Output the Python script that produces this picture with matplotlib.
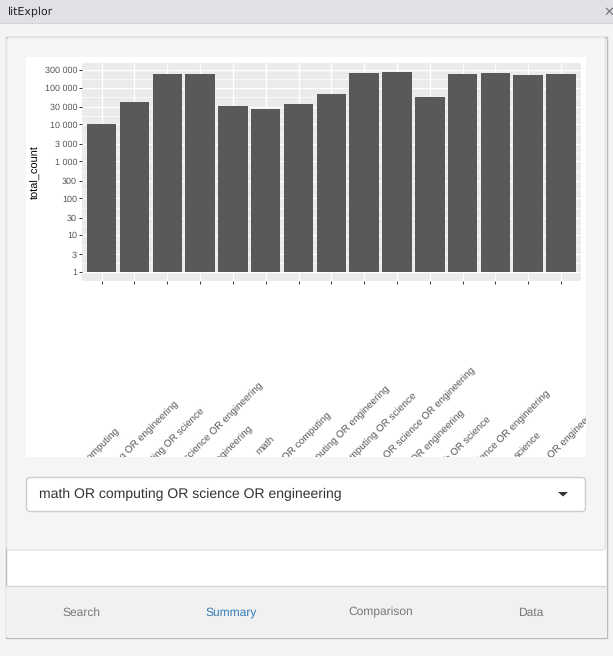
import numpy as np
import matplotlib
matplotlib.use('Agg')
import matplotlib.pyplot as plt
from matplotlib.patches import Rectangle, FancyBboxPatch, Polygon
from matplotlib.transforms import Bbox, TransformedBbox

plt.rcParams['text.hinting'] = 'none'
plt.rcParams['text.hinting_factor'] = 1

W, H = 613, 656

categories = ['computing', 'computing OR engineering', 'computing OR science',
              'computing OR science OR engineering', 'engineering', 'math',
              'math OR computing', 'math OR computing OR engineering',
              'math OR computing OR science',
              'math OR computing OR science OR engineering',
              'math OR engineering', 'math OR science',
              'math OR science OR engineering', 'science',
              'science OR engineering']
total_count = [10500, 40700, 234000, 234000, 31700, 26300, 35900, 67000,
               249000, 266000, 55600, 234000, 249000, 220000, 234000]
y_breaks = [1, 3, 10, 30, 100, 300, 1000, 3000, 10000, 30000, 100000, 300000]
y_labels = ['1', '3', '10', '30', '100', '300', '1 000', '3 000', '10 000',
            '30 000', '100 000', '300 000']
tabs = ['Search', 'Summary', 'Comparison', 'Data']


def axes_px(fig, left, top, right, bottom):
    """Crea un axes a partir de coordenadas en pixeles."""
    return fig.add_axes([left / W, 1 - bottom / H, (right - left) / W, (bottom - top) / H])


fig = plt.figure(figsize=(W / 100, H / 100), dpi=100, facecolor='#f3f5f4')

# Ventana de la aplicacion
bg = fig.add_axes([0, 0, 1, 1])
bg.set_xlim(0, W)
bg.set_ylim(H, 0)
bg.axis('off')
bg.add_patch(Rectangle((0, 0), W, 23, fc='#e0e1e5', ec='none'))
bg.plot([0, W], [23, 23], color='#d2d4d6', lw=0.8)
bg.text(8, 12, 'litExplor', fontsize=7.7, color='#222222', va='center', family='DejaVu Sans')
bg.text(603, 12, '✕', fontsize=9, color='#777777', va='center', family='DejaVu Sans',
        fontweight='bold', clip_on=True)
bg.add_patch(Rectangle((5.5, 36.5), 601, 601, fc='white', ec='#b9bbbb', lw=1))
bg.add_patch(FancyBboxPatch((6.5, 37.5), 599, 512.5, boxstyle='round,pad=0,rounding_size=3',
                            fc='#f5f5f5', ec='#e3e3e3', lw=1))
bg.add_patch(Rectangle((6, 586), 600, 51, fc='#f1f1f1', ec='none'))
bg.plot([6, 606], [586, 586], color='#d5d5d5', lw=1)
for i, tab in enumerate(tabs):
    bg.text(81 + i * 150, 616, tab, fontsize=8.6, ha='center', va='baseline',
            family='Liberation Sans', color='#337ab7' if tab == 'Summary' else '#777777')

# Fondo del grafico y selector
bg.add_patch(Rectangle((26, 57), 560, 400, fc='white', ec='none'))
bg.add_patch(FancyBboxPatch((26.5, 477.5), 559, 34, boxstyle='round,pad=0,rounding_size=4',
                            fc='white', ec='#cccccc', lw=1))
bg.text(39, 494, 'math OR computing OR science OR engineering', fontsize=10.1,
        color='#333333', va='center', family='Liberation Sans')
bg.add_patch(Polygon([[558, 492], [568, 492], [563, 496.5]], fc='#333333', ec='none'))

# Grafico de barras
ax = axes_px(fig, 82, 62.5, 580.7, 281)
ax.set_facecolor('#ebebeb')
x = np.arange(1, len(categories) + 1)
ax.set_axisbelow(True)
ax.bar(x, np.array(total_count) - 1, bottom=1, width=0.9, color='#595959')
ax.set_yscale('log')
ax.set_xlim(0.4, 15.6)
ax.set_ylim(0.57, 480000)
ax.set_yticks(y_breaks)
ax.set_yticklabels(y_labels)
breaks = np.array(y_breaks, dtype=float)
ax.set_yticks(np.sqrt(breaks[:-1] * breaks[1:]), minor=True)
ax.set_xticks(x)
ax.set_xticklabels(categories)
ax.grid(True, which='major', color='white', lw=1.0)
ax.grid(True, which='minor', axis='y', color='white', lw=0.5)
for s in ax.spines.values():
    s.set_visible(False)
ax.tick_params(axis='y', which='major', length=2, width=0.7, color='#333333',
               labelsize=6.5, labelcolor='#555555', pad=1.5)
ax.tick_params(axis='y', which='minor', length=0)
ax.tick_params(axis='x', length=2, width=0.7, color='#333333', labelsize=7.2,
               labelcolor='#555555', pad=116)
clip = TransformedBbox(Bbox([[26 / W, 1 - 457 / H], [586 / W, 1 - 57 / H]]), fig.transFigure)
for label in ax.get_yticklabels():
    label.set_family('Liberation Sans')
for label in ax.get_xticklabels():
    label.set_family('Liberation Sans')
    label.set_rotation(45)
    label.set_ha('center')
    label.set_va('center')
    label.set_rotation_mode('anchor')
    label.set_clip_box(clip)
    label.set_clip_on(True)
fig.text(36 / W, 1 - 172 / H, 'total_count', rotation=90, fontsize=7.7, color='black',
         ha='center', va='center', family='Liberation Sans')

fig.savefig('out.png', dpi=100, facecolor=fig.get_facecolor())
